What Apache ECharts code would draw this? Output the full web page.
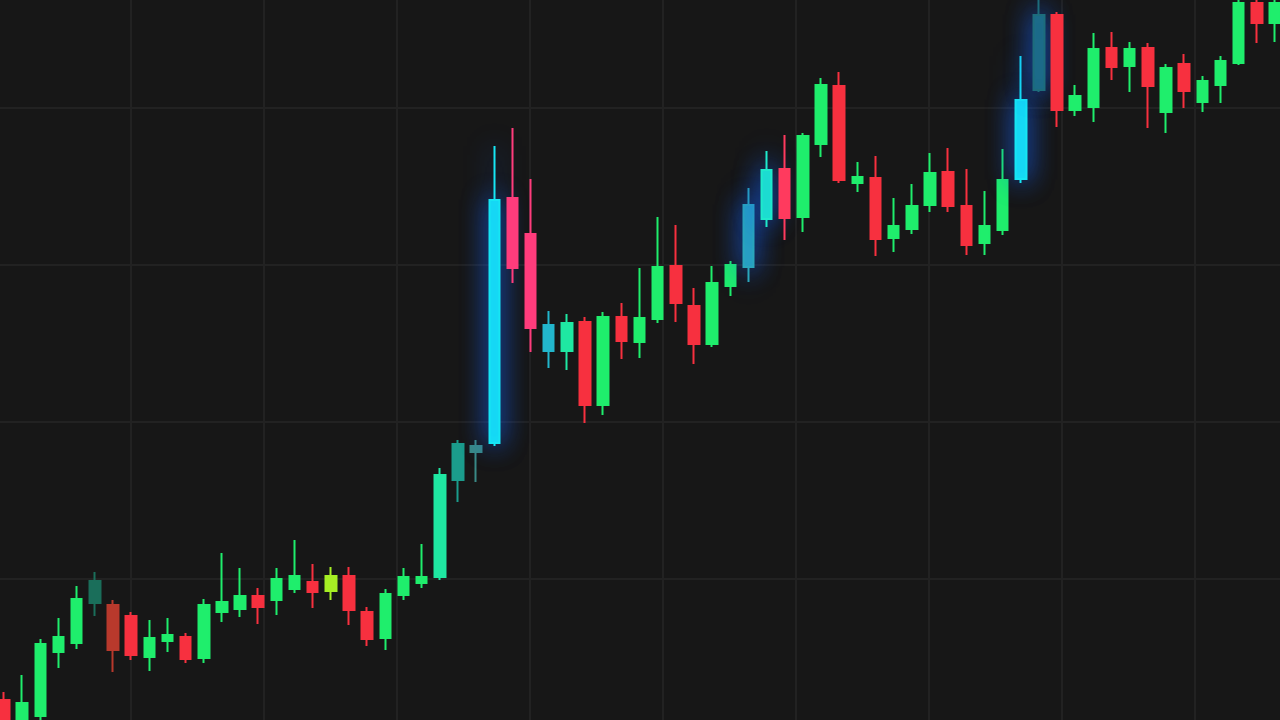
<!DOCTYPE html>
<html>
<head>
<meta charset="utf-8">
<title>Candles</title>
<script src="https://cdn.jsdelivr.net/npm/echarts@6/dist/echarts.min.js"></script>
<style>
  html, body { margin: 0; padding: 0; background: #171717; }
  #chart { width: 1280px; height: 720px; }
</style>
</head>
<body>
<div id="chart"></div>
<script>
// candle values: open / close / low / high
const openVals = [36, 11, 20, 84, 93, 133, 131, 120, 79, 95, 99, 78, 124, 127, 140, 136, 147, 154, 145, 160,
  124, 98, 141, 153, 159, 256, 284, 293, 538, 502, 385, 385, 414, 331, 419, 394, 417, 470, 430, 392,
  450, 469, 517, 567, 519, 592, 650, 553, 558, 498, 507, 531, 564, 530, 493, 506, 557, 646, 721, 626,
  629, 688, 670, 688, 624, 672, 634, 651, 673, 733, 713];
const closeVals = [11, 33, 92, 99, 137, 155, 86, 81, 98, 101, 77, 131, 134, 140, 129, 157, 160, 144, 160, 126,
  97, 142, 159, 159, 261, 292, 290, 536, 468, 408, 411, 413, 331, 419, 395, 418, 469, 433, 392, 453,
  471, 531, 566, 518, 600, 651, 556, 559, 497, 510, 530, 563, 530, 491, 510, 556, 636, 721, 626, 640,
  687, 669, 687, 650, 668, 645, 655, 675, 733, 713, 733];
const lowVals = [6, 6, 16, 68, 87, 120, 64, 76, 65, 84, 73, 73, 114, 119, 112, 121, 143, 128, 136, 111,
  90, 86, 136, 148, 156, 234, 254, 290, 453, 384, 368, 366, 313, 321, 377, 378, 413, 414, 372, 389,
  440, 454, 509, 496, 504, 579, 553, 544, 480, 484, 502, 524, 524, 481, 481, 501, 553, 644, 609, 620,
  614, 656, 644, 608, 603, 628, 624, 633, 671, 693, 694];
const highVals = [44, 61, 97, 118, 150, 164, 136, 124, 116, 118, 103, 137, 183, 168, 148, 168, 196, 172, 169, 169,
  129, 147, 168, 192, 268, 296, 296, 590, 608, 557, 425, 422, 419, 424, 433, 468, 519, 511, 448, 470,
  475, 548, 585, 601, 603, 658, 664, 574, 580, 538, 552, 583, 588, 567, 545, 587, 680, 741, 724, 651,
  703, 704, 694, 693, 672, 682, 660, 680, 741, 738, 741];
const categories = openVals.map((_, i) => 'C' + (i + 1));

// colour tone of each candle
const tones = ['red', 'green', 'green', 'green', 'green', 'dimTeal', 'dimRed', 'red', 'green', 'green',
  'red', 'green', 'green', 'green', 'red', 'green', 'green', 'red', 'lime', 'red',
  'red', 'green', 'green', 'green', 'mint', 'teal', 'grayTeal', 'cyan', 'pink', 'pink',
  'blue', 'mint', 'red', 'green', 'red', 'green', 'green', 'red', 'red', 'green',
  'green', 'blur', 'aqua', 'rose', 'green', 'green', 'red', 'green', 'red', 'green',
  'green', 'green', 'red', 'red', 'green', 'green', 'cyan', 'deep', 'red', 'green',
  'green', 'red', 'green', 'red', 'green', 'red', 'green', 'green', 'green', 'red', 'green'];

const palette = {
  green: '#1fee6c',
  red: '#f7303f',
  rose: '#ff3a5e',
  pink: '#ff3c7c',
  cyan: '#16e6f4',
  aqua: '#1eeacc',
  mint: '#1fe8a2',
  teal: '#1b9c8c',
  grayTeal: '#3a8a86',
  dimTeal: '#1a6e5a',
  dimRed: '#b8392c',
  lime: '#a6ef24',
  blue: '#22b6cc',
  blur: '#2aa6bc',
  deep: '#1d6c7c'
};
const glowTones = ['cyan', 'aqua', 'blur', 'deep'];

const candles = openVals.map((o, i) => {
  const c = palette[tones[i]];
  const style = { color: c, color0: c, borderColor: c, borderColor0: c };
  if (glowTones.indexOf(tones[i]) >= 0) {
    style.shadowBlur = 26;
    style.shadowColor = 'rgba(20, 100, 255, 0.9)';
  }
  return { value: [o, closeVals[i], lowVals[i], highVals[i]], itemStyle: style };
});

const chart = echarts.init(document.getElementById('chart'));

const hidden = { axisLine: { show: false }, axisTick: { show: false }, axisLabel: { show: false } };
const gridLine = { show: true, showMinLine: false, showMaxLine: false, lineStyle: { color: '#222222', width: 2 } };

chart.setOption({
  backgroundColor: '#171717',
  animation: false,
  grid: [
    { left: -5, right: -4, top: 0, bottom: -16, outerBoundsMode: 'none' },
    { left: -2, right: -48, top: 0, bottom: -16, outerBoundsMode: 'none' }
  ],
  xAxis: [
    Object.assign({ type: 'category', gridIndex: 0, data: categories, boundaryGap: true, splitLine: { show: false } }, hidden),
    Object.assign({ type: 'value', gridIndex: 1, min: 0, max: 1330, interval: 133, splitLine: gridLine }, hidden)
  ],
  yAxis: [
    Object.assign({ type: 'value', gridIndex: 0, min: 0, max: 736, splitLine: { show: false } }, hidden),
    Object.assign({ type: 'value', gridIndex: 1, min: 0, max: 736, interval: 157, splitLine: gridLine }, hidden)
  ],
  series: [
    {
      type: 'candlestick',
      xAxisIndex: 0,
      yAxisIndex: 0,
      barWidth: 11,
      itemStyle: { borderWidth: 2 },
      data: candles
    }
  ]
});
</script>
</body>
</html>
